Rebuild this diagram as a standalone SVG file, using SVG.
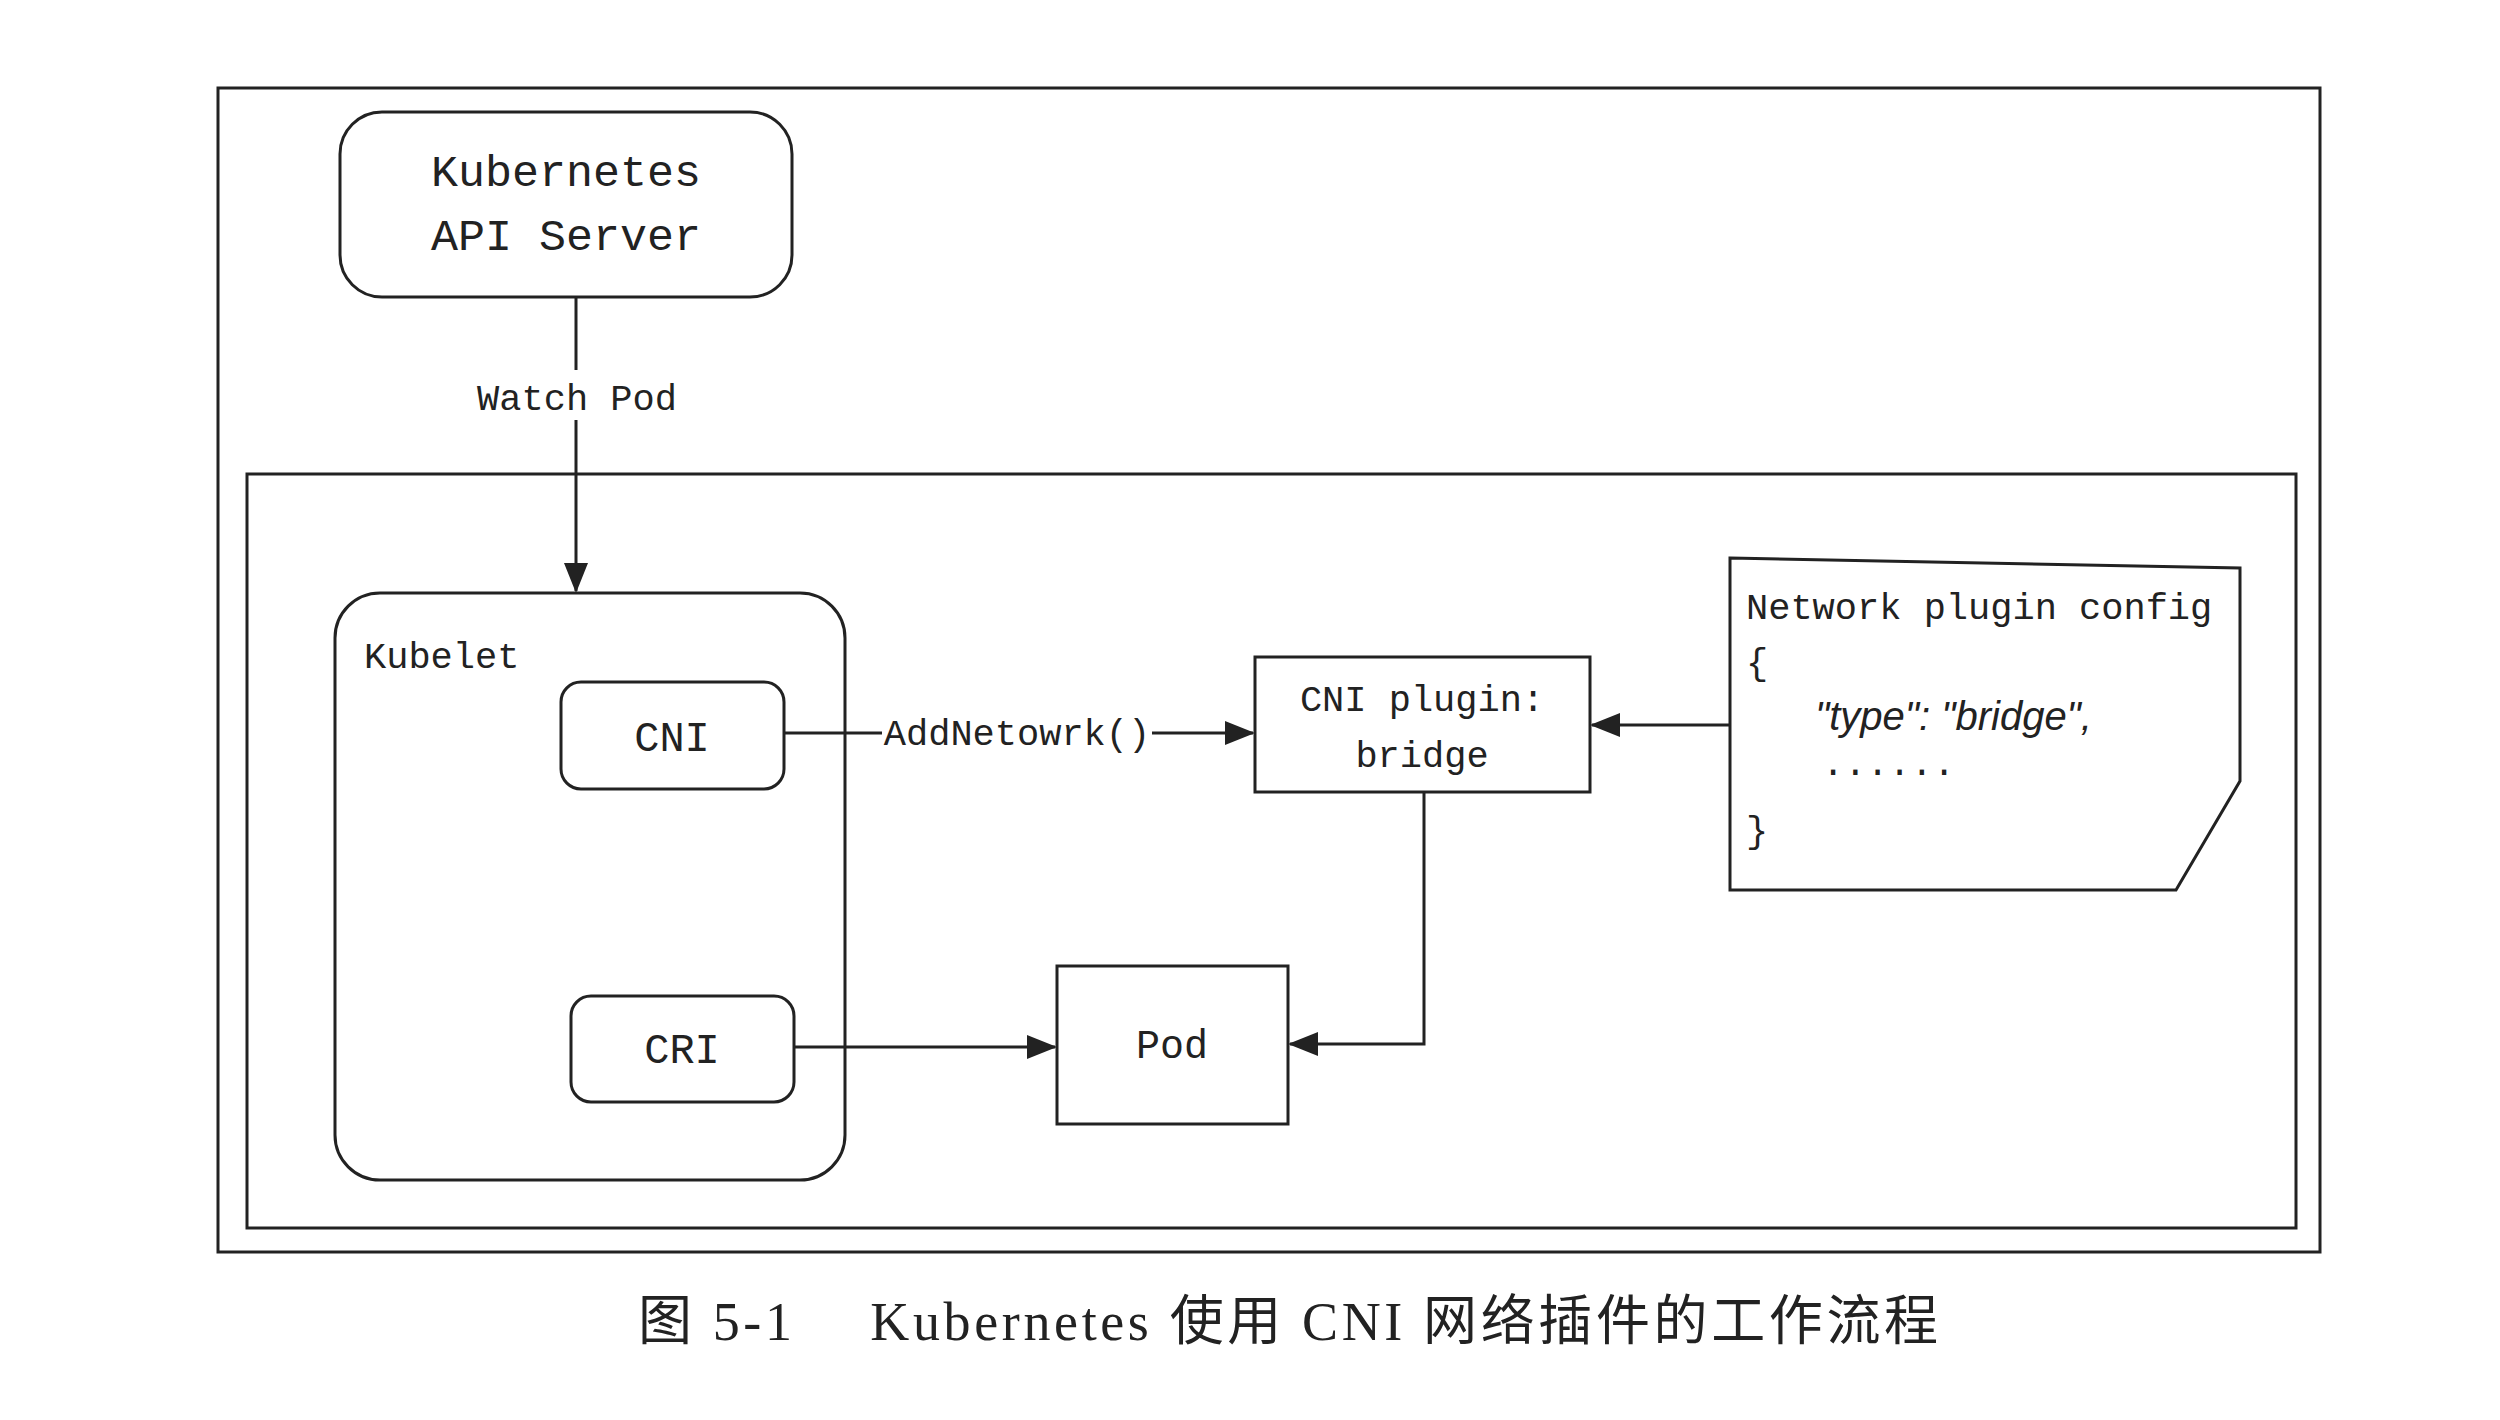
<svg xmlns="http://www.w3.org/2000/svg" width="2500" height="1420" viewBox="0 0 2500 1420">
<style>
.b{fill:#fff;stroke:#222;stroke-width:3}
.t{font-family:"Liberation Mono","DejaVu Sans Mono",monospace;fill:#222;text-anchor:middle}
.s{font-family:"Liberation Mono","DejaVu Sans Mono",monospace;fill:#222;text-anchor:start}
.c{stroke:#222;stroke-width:3;fill:none}
</style>
<defs>
<marker id="m" markerWidth="30" markerHeight="24" refX="28" refY="12" orient="auto" markerUnits="userSpaceOnUse"><path d="M0,0 L30,12 L0,24 z" fill="#222"/></marker></defs>
<rect width="2500" height="1420" fill="#fff"/>
<rect id="frame" x="218" y="88" width="2102" height="1164" class="b"/>
<rect id="host" x="247" y="474" width="2049" height="754" class="b"/>
<g id="api"><rect x="340" y="112" width="452" height="185" rx="42" class="b"/>
<text class="t" x="566" y="186" font-size="45">Kubernetes</text><text class="t" x="566" y="250" font-size="45">API Server</text></g>
<g id="kubelet"><rect x="335" y="593" width="510" height="587" rx="45" class="b"/>
<text class="s" x="364" y="668" font-size="37">Kubelet</text></g>
<g id="cni"><rect x="561" y="682" width="223" height="107" rx="20" class="b"/><text class="t" x="672" y="751" font-size="42">CNI</text></g>
<g id="cri"><rect x="571" y="996" width="223" height="106" rx="20" class="b"/><text class="t" x="682" y="1063" font-size="42">CRI</text></g>
<g id="plugin"><rect x="1255" y="657" width="335" height="135" class="b"/>
<text class="t" x="1422" y="711" font-size="37">CNI plugin:</text><text class="t" x="1422" y="767" font-size="37">bridge</text></g>
<g id="pod"><rect x="1057" y="966" width="231" height="158" class="b"/><text class="t" x="1172" y="1058" font-size="40">Pod</text></g>
<g id="config"><path d="M1730,558 L2240,568 L2240,781 L2176,890 L1730,890 Z" class="b"/>
<text class="s" x="1746" y="619" font-size="37">Network plugin config</text>
<text class="s" x="1746" y="674" font-size="37">{</text>
<text x="1815" y="730" font-size="40" font-style="italic" font-family="Liberation Sans,Arial,sans-serif" fill="#222">"type": "bridge",</text>
<text class="s" x="1822" y="775" font-size="37">......</text>
<text class="s" x="1746" y="842" font-size="37">}</text></g>
<g id="connectors">
<path d="M576,297 V591" class="c" marker-end="url(#m)"/>
<rect x="470" y="370" width="215" height="50" fill="#fff"/>
<text class="t" x="577" y="410" font-size="37">Watch Pod</text>
<path d="M784,733 H1253" class="c" marker-end="url(#m)"/>
<rect x="882" y="708" width="270" height="50" fill="#fff"/>
<text class="t" x="1017" y="745" font-size="37">AddNetowrk()</text>
<path d="M1730,725 H1592" class="c" marker-end="url(#m)"/>
<path d="M794,1047 H1055" class="c" marker-end="url(#m)"/>
<path d="M1424,792 V1044 H1290" class="c" marker-end="url(#m)"/>
</g>
<text x="638" y="1340" font-size="54" textLength="1300" lengthAdjust="spacing" font-family="Liberation Serif,Noto Sans CJK SC,serif" fill="#222">图 5-1　 Kubernetes 使用 CNI 网络插件的工作流程</text>
</svg>
